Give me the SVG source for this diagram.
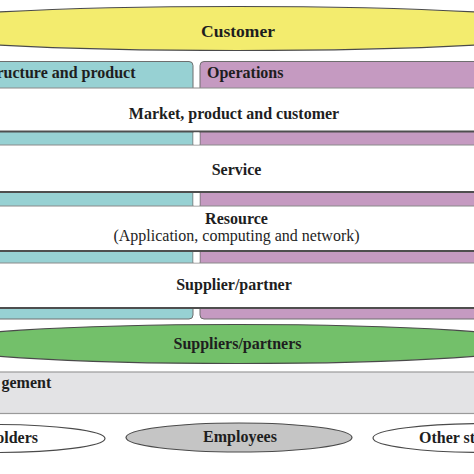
<svg xmlns="http://www.w3.org/2000/svg" width="474" height="474" viewBox="0 0 474 474">
<style>
.t{font-family:"Liberation Serif","Times New Roman",serif;font-size:16px;font-weight:bold;fill:#1e1e1e}
.r{font-family:"Liberation Serif","Times New Roman",serif;font-size:16px;fill:#1e1e1e}
.oval{stroke:#4a4a4a;stroke-width:1.2}
.col{stroke:#6e6e6e;stroke-width:1}
.layer{fill:#ffffff;stroke:none}
.ltop{stroke:#8a8a8a;stroke-width:1}
.lbot{stroke:#4e4e4e;stroke-width:2}
</style>
<rect width="474" height="474" fill="#ffffff"/>
<g id="customer">
<ellipse class="oval" cx="237" cy="28.5" rx="360" ry="22" fill="#f3ec6e"/>
<text class="t" x="238" y="37" text-anchor="middle" style="font-size:17.5px">Customer</text>
</g>
<g id="columns">
<rect id="col-strategy" class="col" x="-10" y="61.5" width="203" height="257.5" rx="4" fill="#97d1d3"/>
<rect id="col-operations" class="col" x="200" y="61.5" width="284" height="257.5" rx="4" fill="#c59ac1"/>
<text class="t" x="-3.5" y="78">ructure and product</text>
<text class="t" x="207" y="78">Operations</text>
</g>
<g id="market">
<rect class="layer" x="-10" y="88" width="494" height="43.5"/>
<line class="ltop" x1="-10" y1="88" x2="484" y2="88"/>
<line class="lbot" x1="-10" y1="131.5" x2="484" y2="131.5"/>
<text class="t" x="234" y="119" text-anchor="middle">Market, product and customer</text>
</g>
<g id="service">
<rect class="layer" x="-10" y="145" width="494" height="47"/>
<line class="ltop" x1="-10" y1="145" x2="484" y2="145"/>
<line class="lbot" x1="-10" y1="192" x2="484" y2="192"/>
<text class="t" x="236.5" y="175" text-anchor="middle">Service</text>
</g>
<g id="resource">
<rect class="layer" x="-10" y="206" width="494" height="45"/>
<line class="ltop" x1="-10" y1="206" x2="484" y2="206"/>
<line class="lbot" x1="-10" y1="251" x2="484" y2="251"/>
<text class="t" x="236.5" y="224" text-anchor="middle">Resource</text>
<text class="r" x="236.5" y="241" text-anchor="middle">(Application, computing and network)</text>
</g>
<g id="supplier-partner">
<rect class="layer" x="-10" y="263" width="494" height="45"/>
<line class="ltop" x1="-10" y1="263" x2="484" y2="263"/>
<line class="lbot" x1="-10" y1="308" x2="484" y2="308"/>
<text class="t" x="234" y="290" text-anchor="middle">Supplier/partner</text>
</g>
<g id="gaps" fill="#ffffff">
<rect x="193.5" y="132.5" width="6" height="12"/>
<rect x="193.5" y="193" width="6" height="12.5"/>
<rect x="193.5" y="252" width="6" height="10.5"/>
</g>
<g id="suppliers-partners">
<ellipse class="oval" cx="237" cy="344" rx="306" ry="19.5" fill="#73c06a"/>
<text class="t" x="237.5" y="349" text-anchor="middle">Suppliers/partners</text>
</g>
<g id="management">
<rect x="-10" y="372" width="494" height="41.5" fill="#e3e3e5" stroke="#9a9a9a" stroke-width="1.2"/>
<text class="t" x="1.5" y="388">gement</text>
</g>
<g id="shareholders">
<ellipse class="oval" cx="-6" cy="438.5" rx="111" ry="14" fill="#ffffff"/>
<text class="t" x="38" y="443" text-anchor="end">olders</text>
</g>
<g id="employees">
<ellipse class="oval" cx="239" cy="437.5" rx="113" ry="14.5" fill="#c5c5c5"/>
<text class="t" x="240" y="442" text-anchor="middle">Employees</text>
</g>
<g id="other-stakeholders">
<ellipse class="oval" cx="486" cy="438" rx="113" ry="14.5" fill="#ffffff"/>
<text class="t" x="419" y="443">Other st</text>
</g>
<g id="connectors"></g>
</svg>
